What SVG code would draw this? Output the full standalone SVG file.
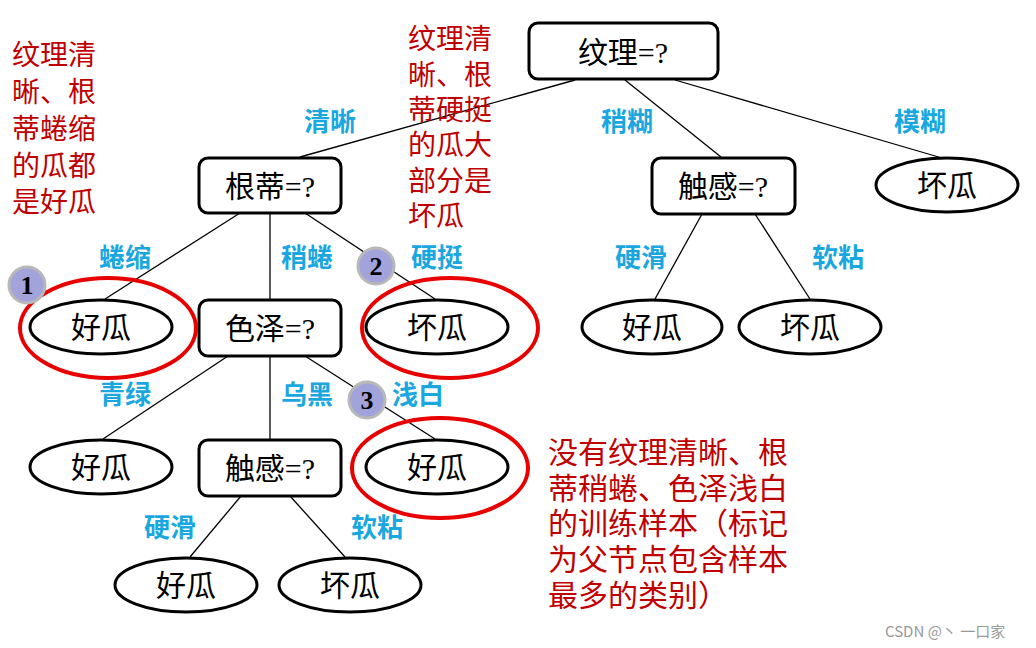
<svg xmlns="http://www.w3.org/2000/svg" width="1036" height="648" viewBox="0 0 1036 648">
<style>
.box{fill:#fff;stroke:#000;stroke-width:3}
.leaf{fill:#fff;stroke:#000;stroke-width:3}
.nt{font-family:"Liberation Serif","Noto Sans CJK SC",serif;font-size:30px;text-anchor:middle;fill:#000}
.lbl{font-family:"Noto Sans CJK SC",sans-serif;font-size:26px;font-weight:bold;fill:#1aa7e0;text-anchor:middle}
.red{font-family:"Noto Sans CJK SC",sans-serif;font-size:28px;fill:#c00000}
.red2{font-family:"Noto Sans CJK SC",sans-serif;font-size:30px;fill:#c00000}
.ring{fill:none;stroke:#e80000;stroke-width:4}
.num{fill:#a3a3dc;stroke:#b8b8b8;stroke-width:3}
.nn{font-family:"Liberation Serif",serif;font-size:26px;font-weight:bold;text-anchor:middle}
#edges line{stroke:#000;stroke-width:1.3}
</style>
<rect width="1036" height="648" fill="#fff"/>
<g id="edges">
<line x1="575" y1="80" x2="300" y2="157"/>
<line x1="625" y1="80" x2="721" y2="157"/>
<line x1="675" y1="80" x2="942" y2="158"/>
<line x1="240" y1="213" x2="105" y2="299"/>
<line x1="270" y1="213" x2="270" y2="300"/>
<line x1="305" y1="213" x2="435" y2="299"/>
<line x1="702" y1="214" x2="655" y2="299"/>
<line x1="755" y1="214" x2="810" y2="299"/>
<line x1="228" y1="356" x2="103" y2="439"/>
<line x1="270" y1="356" x2="270" y2="440"/>
<line x1="305" y1="356" x2="435" y2="439"/>
<line x1="241" y1="496" x2="190" y2="557"/>
<line x1="290" y1="496" x2="345" y2="557"/>
</g>
<g id="n-root"><rect class="box" x="529" y="23" width="189" height="56" rx="9"/><text class="nt" x="623" y="63">纹理=?</text></g>
<g id="n-gendi"><rect class="box" x="199" y="158" width="142" height="55" rx="9"/><text class="nt" x="270" y="197">根蒂=?</text></g>
<g id="n-chugan1"><rect class="box" x="652" y="158" width="143" height="56" rx="9"/><text class="nt" x="723" y="197">触感=?</text></g>
<g id="n-bad1"><ellipse class="leaf" cx="947" cy="185" rx="71" ry="27"/><text class="nt" x="947" y="196">坏瓜</text></g>
<g id="n-good1"><ellipse class="leaf" cx="101" cy="327" rx="71" ry="27"/><text class="nt" x="101" y="338">好瓜</text></g>
<g id="n-sezhe"><rect class="box" x="199" y="300" width="142" height="56" rx="9"/><text class="nt" x="270" y="339">色泽=?</text></g>
<g id="n-bad2"><ellipse class="leaf" cx="437" cy="327" rx="71" ry="27"/><text class="nt" x="437" y="338">坏瓜</text></g>
<g id="n-good2"><ellipse class="leaf" cx="652" cy="327" rx="70" ry="27"/><text class="nt" x="652" y="338">好瓜</text></g>
<g id="n-bad3"><ellipse class="leaf" cx="810" cy="327" rx="71" ry="27"/><text class="nt" x="810" y="338">坏瓜</text></g>
<g id="n-good3"><ellipse class="leaf" cx="101" cy="467" rx="71" ry="27"/><text class="nt" x="101" y="478">好瓜</text></g>
<g id="n-chugan2"><rect class="box" x="199" y="440" width="142" height="56" rx="9"/><text class="nt" x="270" y="479">触感=?</text></g>
<g id="n-good4"><ellipse class="leaf" cx="437" cy="467" rx="71" ry="27"/><text class="nt" x="437" y="478">好瓜</text></g>
<g id="n-good5"><ellipse class="leaf" cx="186" cy="585" rx="71" ry="27"/><text class="nt" x="186" y="596">好瓜</text></g>
<g id="n-bad4"><ellipse class="leaf" cx="350" cy="585" rx="71" ry="27"/><text class="nt" x="350" y="596">坏瓜</text></g>
<g id="labels">
<text class="lbl" x="330" y="131">清晰</text>
<text class="lbl" x="627" y="131">稍糊</text>
<text class="lbl" x="920" y="131">模糊</text>
<text class="lbl" x="125" y="267">蜷缩</text>
<text class="lbl" x="307" y="267">稍蜷</text>
<text class="lbl" x="437" y="267">硬挺</text>
<text class="lbl" x="641" y="267">硬滑</text>
<text class="lbl" x="838" y="267">软粘</text>
<text class="lbl" x="125" y="404">青绿</text>
<text class="lbl" x="307" y="404">乌黑</text>
<text class="lbl" x="418" y="404">浅白</text>
<text class="lbl" x="170" y="537">硬滑</text>
<text class="lbl" x="377" y="537">软粘</text>
</g>
<g id="rings">
<ellipse class="ring" cx="108" cy="328" rx="88" ry="50"/>
<ellipse class="ring" cx="450" cy="328" rx="88" ry="50"/>
<ellipse class="ring" cx="440" cy="468" rx="88" ry="50"/>
<circle class="num" cx="27" cy="285" r="18"/><text class="nn" x="27" y="294">1</text>
<circle class="num" cx="376" cy="266" r="18"/><text class="nn" x="376" y="275">2</text>
<circle class="num" cx="367" cy="400" r="18"/><text class="nn" x="367" y="409">3</text>
</g>
<g id="notes">
<text class="red" x="12" y="65">纹理清</text>
<text class="red" x="12" y="102">晰、根</text>
<text class="red" x="12" y="139">蒂蜷缩</text>
<text class="red" x="12" y="176">的瓜都</text>
<text class="red" x="12" y="212">是好瓜</text>
<text class="red" x="408" y="49">纹理清</text>
<text class="red" x="408" y="85">晰、根</text>
<text class="red" x="408" y="120">蒂硬挺</text>
<text class="red" x="408" y="155">的瓜大</text>
<text class="red" x="408" y="191">部分是</text>
<text class="red" x="408" y="226">坏瓜</text>
<text class="red2" x="548" y="463">没有纹理清晰、根</text>
<text class="red2" x="548" y="499">蒂稍蜷、色泽浅白</text>
<text class="red2" x="548" y="534">的训练样本（标记</text>
<text class="red2" x="548" y="570">为父节点包含样本</text>
<text class="red2" x="548" y="606">最多的类别）</text>
</g>
<text x="885" y="637" font-family="Noto Sans CJK SC,sans-serif" font-size="15" fill="#999">CSDN @丶 一口家</text>
</svg>
